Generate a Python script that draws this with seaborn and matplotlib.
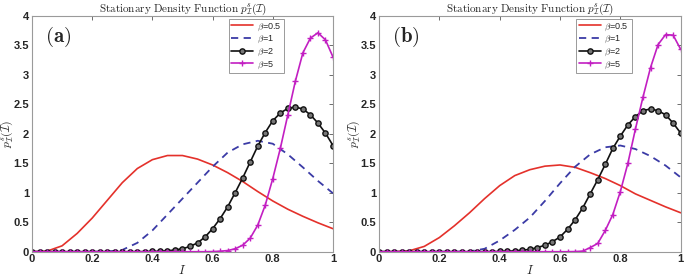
import numpy as np
import pandas as pd
import matplotlib
matplotlib.use("Agg")
import matplotlib.pyplot as plt
import seaborn as sns

# grids of the independent variable
x_smooth = np.round(np.arange(21) * 0.05, 3)
x_mark = np.round(np.arange(41) * 0.025, 3)

# panel (a)
a_beta05 = [0, 0.01, 0.10, 0.31, 0.57, 0.87, 1.17, 1.41, 1.56, 1.63, 1.63,
            1.57, 1.47, 1.34, 1.19, 1.02, 0.86, 0.72, 0.60, 0.49, 0.39]
a_beta1 = [0, 0, 0, 0, 0, 0.002, 0.03, 0.15, 0.36, 0.63, 0.90,
           1.17, 1.44, 1.68, 1.82, 1.88, 1.83, 1.65, 1.43, 1.20, 0.99]
a_beta2 = [0] * 15 + [0.002, 0.004, 0.008, 0.015, 0.03, 0.05, 0.09, 0.15, 0.25,
                      0.39, 0.56, 0.76, 1.00, 1.25, 1.52, 1.79, 2.02, 2.22, 2.35,
                      2.43, 2.45, 2.42, 2.32, 2.18, 2.01, 1.80]
a_beta5 = [0] * 24 + [0.003, 0.008, 0.02, 0.05, 0.11, 0.23, 0.45, 0.79, 1.24,
                      1.75, 2.32, 2.89, 3.37, 3.62, 3.71, 3.59, 3.30]

# panel (b)
b_beta05 = [0, 0.001, 0.015, 0.09, 0.24, 0.44, 0.66, 0.90, 1.12, 1.29, 1.39,
            1.45, 1.47, 1.43, 1.34, 1.24, 1.12, 0.98, 0.87, 0.76, 0.66]
b_beta1 = [0, 0, 0, 0, 0, 0, 0.005, 0.05, 0.19, 0.37, 0.58,
           0.86, 1.16, 1.44, 1.65, 1.77, 1.80, 1.74, 1.62, 1.46, 1.26]
b_beta2 = [0] * 15 + [0.002, 0.004, 0.008, 0.015, 0.025, 0.04, 0.07, 0.11, 0.17,
                      0.25, 0.38, 0.54, 0.74, 0.98, 1.22, 1.48, 1.75, 1.96, 2.15,
                      2.29, 2.39, 2.42, 2.39, 2.32, 2.18, 2.01]
b_beta5 = [0] * 26 + [0.003, 0.01, 0.07, 0.14, 0.36, 0.63, 1.02, 1.50, 2.08,
                      2.62, 3.12, 3.51, 3.68, 3.67, 3.43]

panels = [("(a)", a_beta05, a_beta1, a_beta2, a_beta5),
          ("(b)", b_beta05, b_beta1, b_beta2, b_beta5)]

labels = [r"$\beta$=0.5", r"$\beta$=1", r"$\beta$=2", r"$\beta$=5"]
c_red = "#e4312b"
c_blue = "#3b3ba6"
c_black = "#111111"
c_mag = "#c21fc2"

sns.set_style("white")
plt.rcParams["mathtext.fontset"] = "cm"
plt.rcParams["font.family"] = ["Liberation Sans", "DejaVu Sans"]
plt.rcParams["xtick.direction"] = "in"
plt.rcParams["ytick.direction"] = "in"

fig = plt.figure(figsize=(6.85, 2.8), dpi=100)
positions = [[0.0467, 0.101, 0.4394, 0.843], [0.5533, 0.101, 0.4404, 0.843]]

for pos, (tag, r05, r1, r2, r5) in zip(positions, panels):
    ax = fig.add_axes(pos)
    d_smooth = pd.DataFrame({"I": x_smooth, "b05": r05, "b1": r1})
    d_mark = pd.DataFrame({"I": x_mark, "b2": r2, "b5": r5})

    sns.lineplot(data=d_smooth, x="I", y="b05", ax=ax, color=c_red, lw=1.2,
                 label=labels[0])
    sns.lineplot(data=d_smooth, x="I", y="b1", ax=ax, color=c_blue, lw=1.3,
                 linestyle=(0, (4, 3)), label=labels[1])
    sns.lineplot(data=d_mark, x="I", y="b2", ax=ax, color=c_black, lw=1.2,
                 marker="o", markersize=3.8, markerfacecolor="#777777",
                 markeredgecolor=c_black, markeredgewidth=1.0, label=labels[2])
    sns.lineplot(data=d_mark, x="I", y="b5", ax=ax, color=c_mag, lw=1.2,
                 marker="+", markersize=5, markeredgecolor=c_mag,
                 markeredgewidth=1.0, label=labels[3])

    ax.set_xlim(0, 1)
    ax.set_ylim(0, 4)
    ax.set_xticks([0, 0.2, 0.4, 0.6, 0.8, 1])
    ax.set_xticklabels(["0", "0.2", "0.4", "0.6", "0.8", "1"])
    ax.set_yticks(np.arange(0, 4.01, 0.5))
    ax.set_yticklabels(["0", "0.5", "1", "1.5", "2", "2.5", "3", "3.5", "4"])
    ax.tick_params(labelsize=8, length=3, width=0.6, color="#555555", pad=2,
                   top=True, right=True)
    for lab in ax.get_xticklabels() + ax.get_yticklabels():
        lab.set_fontweight("bold")
    for s in ax.spines.values():
        s.set_color("#9a9a9a")
        s.set_linewidth(0.8)

    ax.set_xlabel(r"$I$", fontsize=9, labelpad=0)
    ax.set_ylabel(r"$p^s_{\mathcal{I}}(\mathcal{I})$", fontsize=8.5)
    ax.yaxis.set_label_coords(-0.055, 0.5)
    ax.set_title(r"$\mathrm{Stationary\ Density\ Function}\ p^s_{\mathcal{I}}(\mathcal{I})$",
                 fontsize=8, pad=3)
    ax.text(0.043, 0.91, r"$\mathbf{" + tag + "}$", transform=ax.transAxes,
            fontsize=15, ha="left", va="center")

    leg = ax.legend(loc="upper right", bbox_to_anchor=(0.837, 0.987),
                    fontsize=6.5, frameon=True, fancybox=False,
                    framealpha=1, edgecolor="#8a8a8a", handlelength=2.4,
                    borderpad=0.3, labelspacing=0.15, handletextpad=0.4,
                    borderaxespad=0)
    leg.get_frame().set_linewidth(0.6)

fig.savefig("out.png", dpi=100)
